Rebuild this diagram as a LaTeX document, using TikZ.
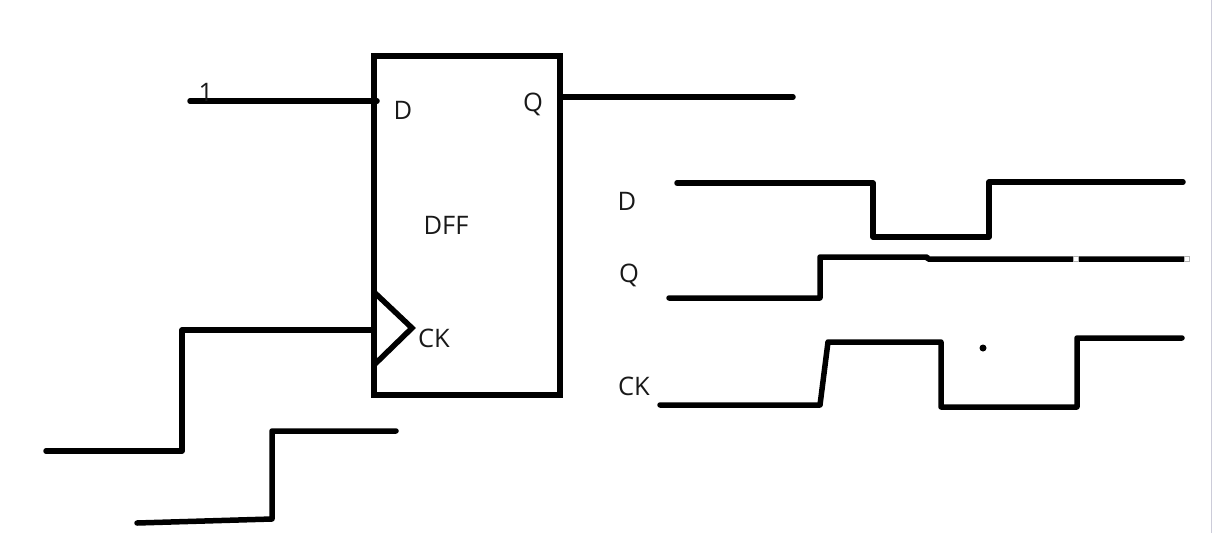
\documentclass[tikz,border=0pt]{standalone}
\usepackage{fontspec}
\setmainfont{Open Sans}
\begin{document}
\begin{tikzpicture}[x=1pt,y=-1pt,
  wire/.style={line width=5.5pt,line cap=round,line join=round,black},
  lbl/.style={font=\fontsize{25.5}{27}\selectfont,inner sep=0pt,text=black!90},
  handle/.style={draw=gray!60,fill=white,line width=0.5pt,minimum size=5pt,inner sep=0pt,rectangle}]
\useasboundingbox (0,0) rectangle (1213,533);
\fill[white] (0,0) rectangle (1213,533);
\draw[color=blue!15!gray!35,line width=1.5pt] (1211.5,0) -- (1211.5,533);
% DFF box
\node[draw=black,line width=6pt,inner sep=0pt,rectangle,minimum width=186pt,minimum height=339pt] (box) at (467,225) {};
\coordinate (dIn) at (377,101);
\coordinate (qOut) at (562,97);
\coordinate (dS) at (190,101);
\coordinate (qE) at (793,97);
\draw[wire] (dS) -- (dIn);
\draw[wire] (qOut) -- (qE);
\node[lbl] (one) at (206,92) {1};
\node[lbl] (dl) at (403,110) {D};
\node[lbl] (ql) at (533,104) {Q};
\node[lbl] (dff) at (446,225) {DFF};
\node[lbl] (ckl) at (434,338) {CK};
% clock triangle
\coordinate (t1) at (375,293);
\coordinate (t2) at (412,328);
\coordinate (t3) at (375,364);
\draw[wire,line cap=butt,line join=miter] (t1) -- (t2) -- (t3);
% clock input
\coordinate (c1) at (46,451);
\coordinate (c2) at (182,451);
\coordinate (c3) at (182,330);
\coordinate (c4) at (374,330);
\draw[wire] (c1) -- (c2) -- (c3) -- (c4);
\coordinate (e1) at (137,523);
\coordinate (e2) at (272,519);
\coordinate (e3) at (272,431);
\coordinate (e4) at (396,431);
\draw[wire] (e1) -- (e2) -- (e3) -- (e4);
% waveforms
\node[lbl] (wd) at (627,201) {D};
\node[lbl] (wq) at (629,275) {Q};
\node[lbl] (wc) at (634,386) {CK};
\coordinate (d1) at (677,183);
\coordinate (d2) at (873,183);
\coordinate (d3) at (873,237);
\coordinate (d4) at (989,237);
\coordinate (d5) at (989,182);
\coordinate (d6) at (1183,182);
\draw[wire] (d1) -- (d2) -- (d3) -- (d4) -- (d5) -- (d6);
\coordinate (q1) at (669,298);
\coordinate (q2) at (820,298);
\coordinate (q3) at (820,257);
\coordinate (q4) at (927,257);
\coordinate (q5) at (928,259);
\coordinate (q6) at (1187,259);
\draw[wire] (q1) -- (q2) -- (q3) -- (q4) -- (q5) -- (q6);
\node[handle] (h1) at (1075.5,259) {};
\node[handle] (h2) at (1187,259) {};
\coordinate (k1) at (660,405);
\coordinate (k2) at (820,405);
\coordinate (k3) at (828,342);
\coordinate (k4) at (941,342);
\coordinate (k5) at (941,407);
\coordinate (k6) at (1077,407);
\coordinate (k7) at (1077,338);
\coordinate (k8) at (1182,338);
\draw[wire] (k1) -- (k2) -- (k3) -- (k4) -- (k5) -- (k6) -- (k7) -- (k8);
\fill[black] (983,348) circle (3.5pt);
\end{tikzpicture}
\end{document}
